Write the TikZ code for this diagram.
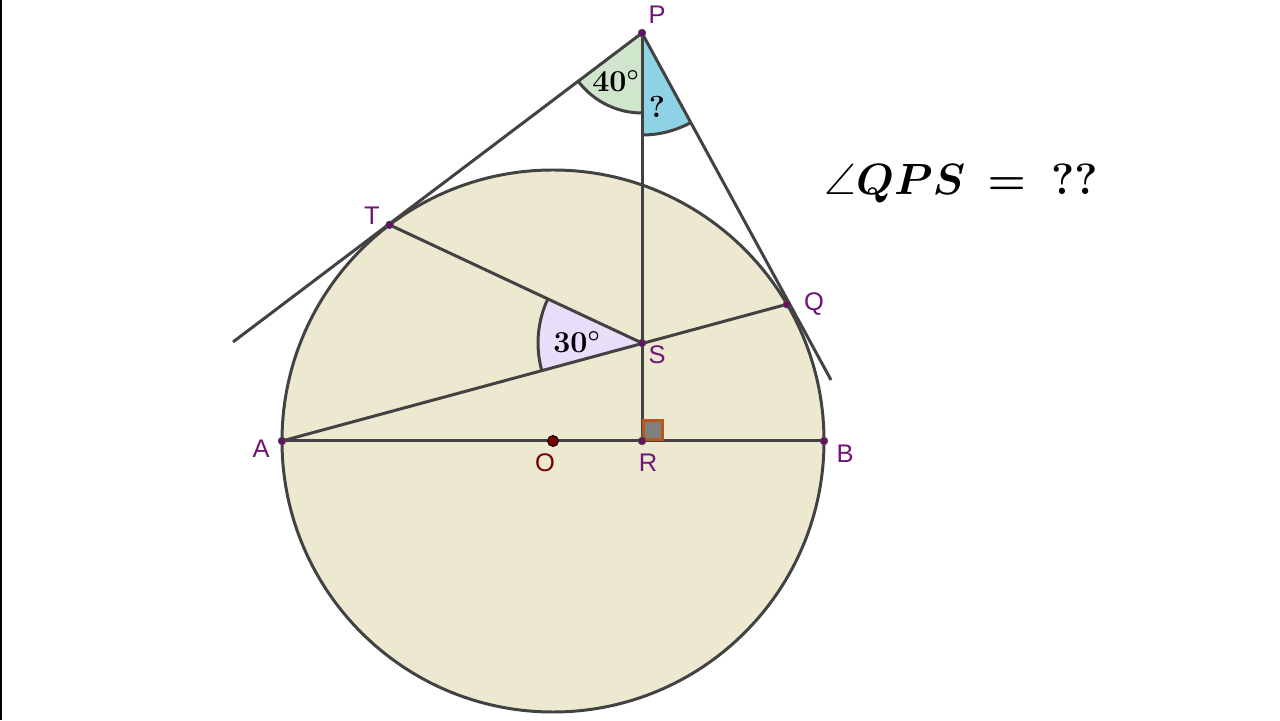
\documentclass[tikz,border=0pt]{standalone}
\usepackage{fontspec}
\usepackage{amsmath, amssymb}
\usetikzlibrary{calc}
\newfontfamily\lblfont{Liberation Sans}

\definecolor{diskfill}{RGB}{237,233,208}
\definecolor{linegray}{RGB}{66,66,66}
\definecolor{ptpurple}{RGB}{102,16,102}
\definecolor{lblpurple}{RGB}{112,20,120}
\definecolor{odark}{RGB}{120,0,0}
\definecolor{angA}{RGB}{208,230,204}
\definecolor{angB}{RGB}{142,210,230}
\definecolor{angC}{RGB}{232,222,250}
\definecolor{sqedge}{RGB}{185,85,30}

\tikzset{
	seg/.style={draw=linegray, line width=1.7pt},
	arcline/.style={draw=linegray, line width=1.7pt},
	lbl/.style={text=lblpurple, font=\lblfont\fontsize{14.5}{16}\selectfont, inner sep=0pt},
	anglbl/.style={font=\fontsize{17}{20}\selectfont\boldmath, inner sep=0pt},
}

\begin{document}
\begin{tikzpicture}[x=0.02cm, y=0.02cm]
			\useasboundingbox (0,0) rectangle (1280,720);
			\fill[white] (0,0) rectangle (1280,720);
			\draw[black, line width=0.9pt] (0.8,0) -- (0.8,720);

			\def\rad{271};
			\coordinate (O) at (553,279);
			\coordinate (A) at ($(O)+(180:\rad)$);
			\coordinate (B) at ($(O)+(0:\rad)$);
			\coordinate (T) at ($(O)+(127.1:\rad)$);
			\coordinate (Q) at ($(O)+(30.3:\rad)$);
			\coordinate (P) at (642,687);
			\coordinate (S) at (642,377);
			\coordinate (R) at (642,279);
			\coordinate (tanEnd) at (233,378);
			\coordinate (secEnd) at (831,340);

			\fill[diskfill] (O) circle[radius=\rad];

			\fill[angA] (P) -- ++(217:80) arc[start angle=217, end angle=270, radius=80] -- cycle;
			\fill[angB] (P) -- ++(270:102) arc[start angle=270, end angle=298.6, radius=102] -- cycle;
			\fill[angC] (S) -- ++(154.8:104) arc[start angle=154.8, end angle=195.3, radius=104] -- cycle;

			\draw[seg] (tanEnd) -- (P) -- (secEnd);
			\draw[seg] (P) -- (R);
			\draw[seg] ($(A)+(0,0.3)$) -- ($(B)+(0,0.3)$);
			\draw[seg] (A) -- (Q);
			\draw[seg] (T) -- (S);
			\draw[seg] (O) circle[radius=\rad];

			\draw[arcline] (P) ++(217:80) arc[start angle=217, end angle=270, radius=80];
			\draw[arcline] (P) ++(270:102) arc[start angle=270, end angle=298.6, radius=102];
			\draw[arcline] (S) ++(154.8:104) arc[start angle=154.8, end angle=195.3, radius=104];

			\filldraw[fill=gray, draw=sqedge, line width=1.4pt] ($(R)+(1.5,1.5)$) rectangle ++(19,19);

			\foreach \p in {P,T,Q,S,A,R,B}
			{
				\filldraw[fill=ptpurple, draw=black!70, line width=0.4pt] (\p) circle[radius=3.8];
			}
			\filldraw[fill=odark, draw=black, line width=0.5pt] (O) circle[radius=5.5];

			\node[lbl] (labP) at (657,705) {P};
			\node[lbl] (labT) at (372,504) {T};
			\node[lbl] (labQ) at (814,416) {Q};
			\node[lbl] (labS) at (657,365) {S};
			\node[lbl] (labA) at (261,271) {A};
			\node[lbl, text=odark] (labO) at (545,257) {O};
			\node[lbl] (labR) at (648,257) {R};
			\node[lbl] (labB) at (845,266) {B};

			\node[anglbl] (angP) at (616,639) {$40^\circ$};
			\node[anglbl] (angQ) at (657,613) {$?$};
			\node[anglbl] (angS) at (577,378) {$30^\circ$};

			\node[font=\fontsize{25}{29}\selectfont\boldmath, inner sep=0pt] (goal) at (961,536) {$\angle QPS \mkern3mu=\mkern9mu ??$};
		\end{tikzpicture}
\end{document}
